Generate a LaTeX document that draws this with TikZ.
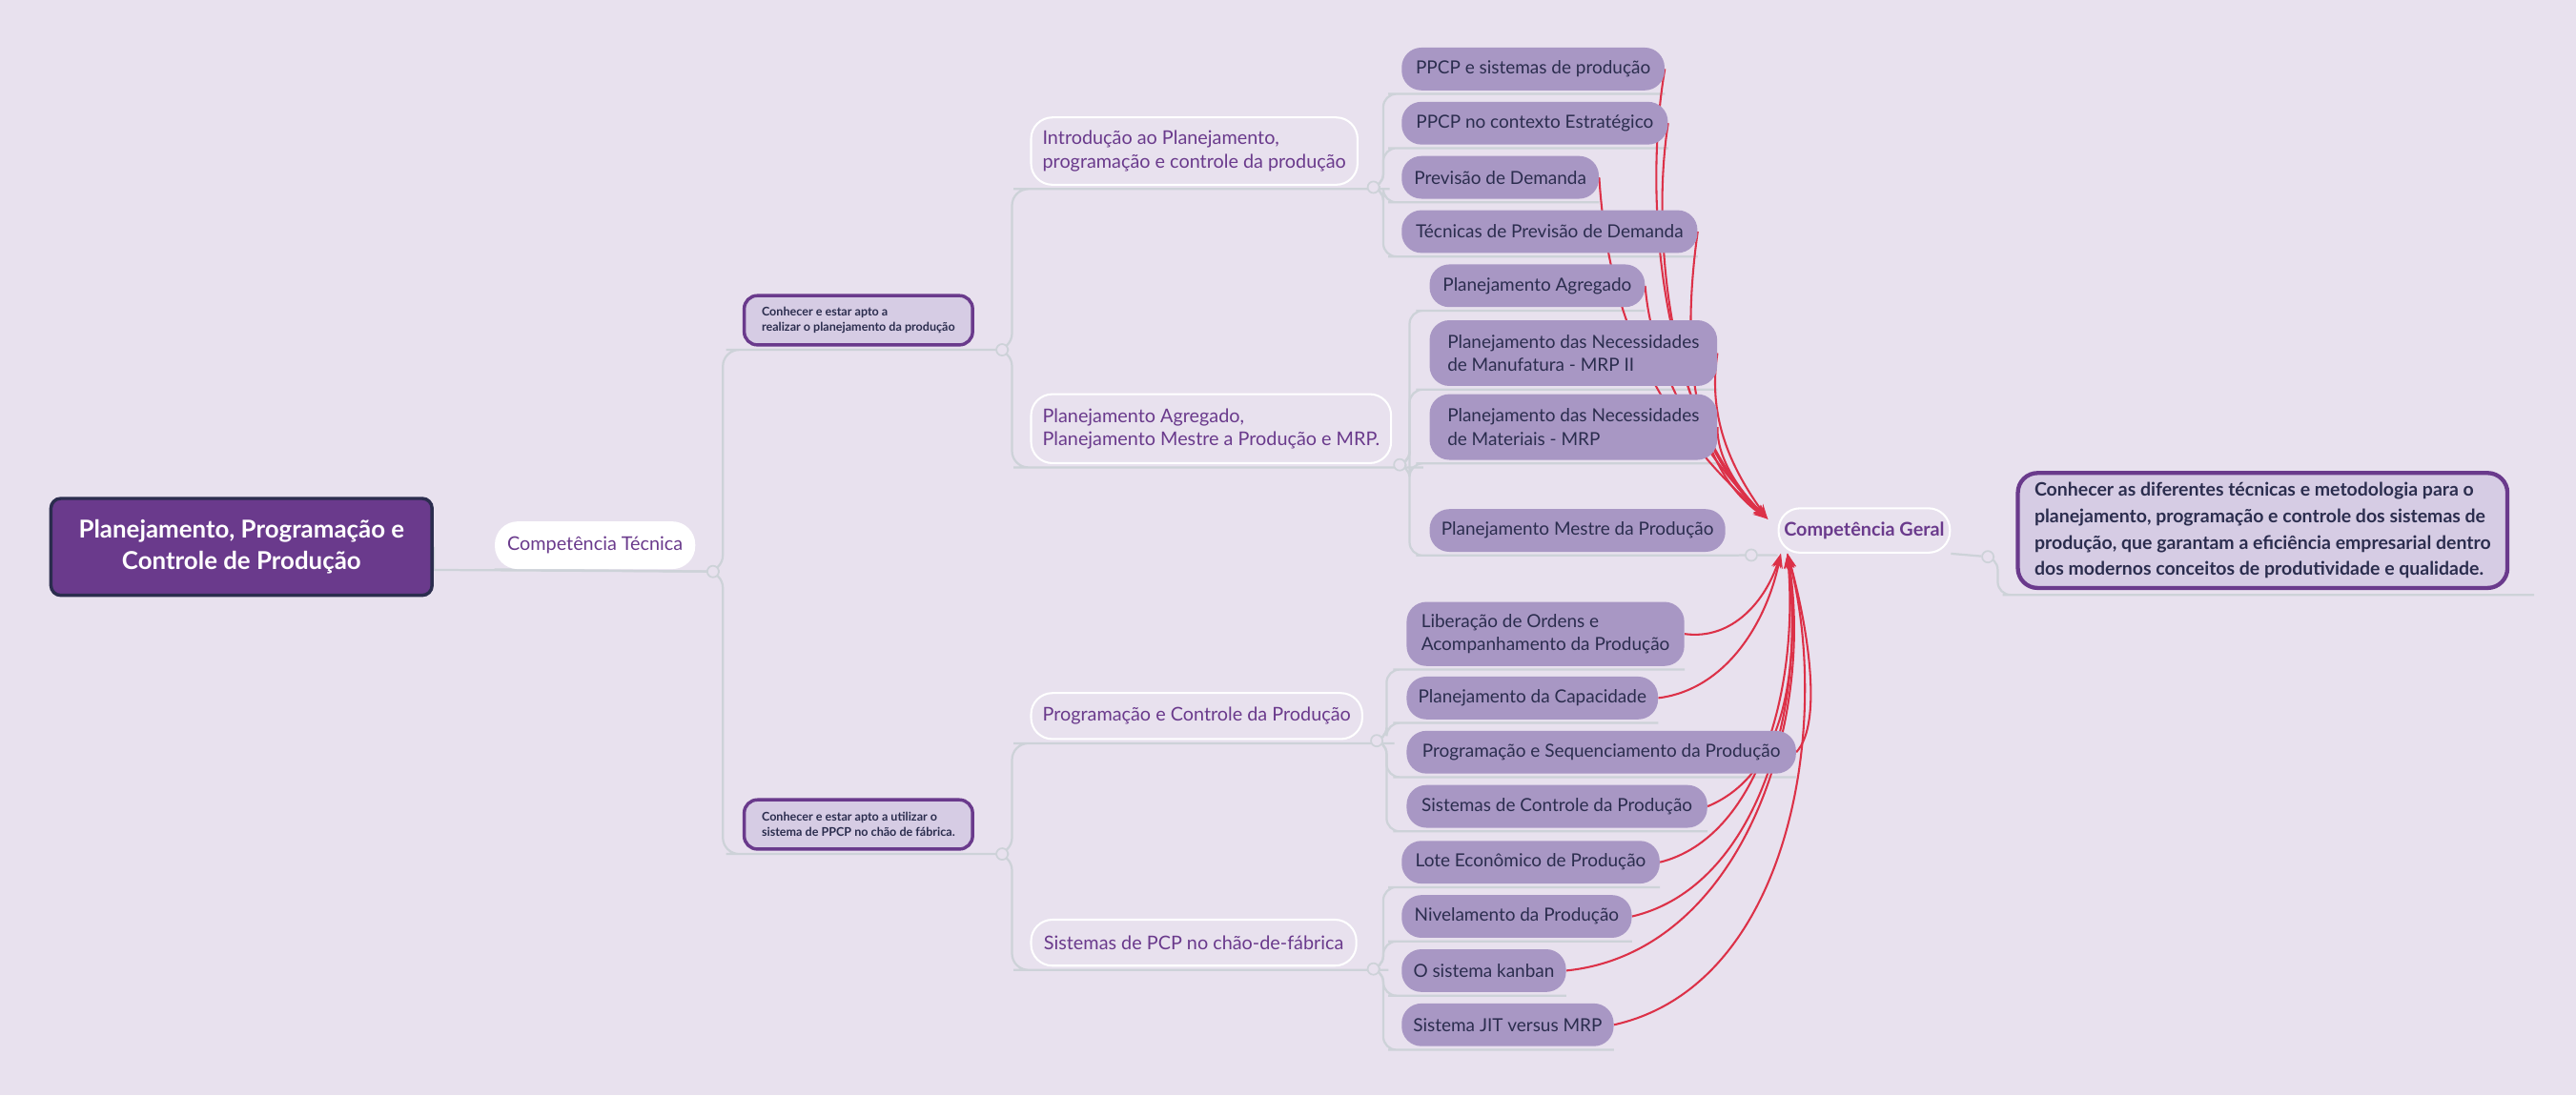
\documentclass[tikz,border=0pt]{standalone}
\usepackage{fontspec}
\setmainfont{Lato}
\usetikzlibrary{calc,arrows.meta}
\pgfdeclarelayer{bgl}
\pgfsetlayers{bgl,main}
\definecolor{bg}{HTML}{E8E1EE}
\definecolor{leaf}{HTML}{A897C4}
\definecolor{ltext}{HTML}{2B2D4E}
\definecolor{purp}{HTML}{6A3A8C}
\definecolor{gline}{HTML}{CDD2D8}
\definecolor{redl}{HTML}{DC3148}
\definecolor{pale}{HTML}{D6CCE4}
\tikzset{
 leafbox/.style={anchor=west,fill=leaf,rounded corners=12pt,text=ltext,font=\fontsize{11}{14}\selectfont,align=left,inner xsep=7pt,minimum height=26pt,inner ysep=5pt},
 whitebox/.style={anchor=west,fill=bg,draw=white,line width=1.2pt,rounded corners=13pt,text=purp,font=\fontsize{11.5}{14}\selectfont,align=left,inner xsep=7pt,minimum height=28pt,inner ysep=5pt},
 smallbox/.style={anchor=west,fill=pale,draw=purp,line width=2pt,rounded corners=8pt,text=ltext,font=\bfseries\fontsize{7.3}{9.5}\selectfont,align=left,inner xsep=6pt,minimum height=30pt,minimum width=139pt},
 conn/.style={draw=gline,line width=1.3pt},
 junc/.style={circle,draw=gline,fill=bg,line width=1pt,inner sep=0pt,minimum size=7pt},
 rarrow/.style={draw=redl,line width=1.2pt,-{Stealth[length=9pt,width=6pt]}},
}
\begin{document}
\begin{tikzpicture}[x=1pt,y=-1pt]
\begin{pgfonlayer}{bgl}
\fill[bg] (0,0) rectangle (1568,667);
\end{pgfonlayer}
\useasboundingbox (0,0) rectangle (1568,667);
% nodes
\node[anchor=west,fill=purp,draw=ltext,line width=2pt,rounded corners=6pt,text=white,font=\bfseries\fontsize{15}{19}\selectfont,align=center,minimum width=232pt,minimum height=59pt] (root) at (30,333) {Planejamento, Programação e\\Controle de Produção};
\node[anchor=west,fill=white,rounded corners=14pt,text=purp,font=\fontsize{11.5}{14}\selectfont,minimum width=122pt,minimum height=29pt] (ct) at (301,332) {Competência Técnica};
\node[smallbox] (a1) at (452,195) {Conhecer e estar apto a\\realizar o planejamento da produção};
\node[smallbox] (a2) at (452,502) {Conhecer e estar apto a utilizar o\\sistema de PPCP no chão de fábrica.};
\node[whitebox,minimum width=198pt,minimum height=41pt] (b1) at (627,92) {Introdução ao Planejamento,\\programação e controle da produção};
\node[whitebox,minimum width=214pt,minimum height=42pt] (b2) at (627,261) {Planejamento Agregado,\\Planejamento Mestre a Produção e MRP.};
\node[whitebox,minimum width=200pt] (b3) at (627,436) {Programação e Controle da Produção};
\node[whitebox,minimum width=198pt] (b4) at (627,574) {Sistemas de PCP no chão-de-fábrica};
\node[leafbox,minimum width=160pt] (l1) at (853,42) {PPCP e sistemas de produção};
\node[leafbox,minimum width=162pt] (l2) at (853,75) {PPCP no contexto Estratégico};
\node[leafbox,minimum width=120pt] (l3) at (853,108) {Previsão de Demanda};
\node[leafbox,minimum width=180pt] (l4) at (853,141) {Técnicas de Previsão de Demanda};
\node[leafbox,minimum width=131pt] (l5) at (870,174) {Planejamento Agregado};
\node[leafbox,minimum width=175pt,minimum height=40pt] (l6) at (870,215) {Planejamento das Necessidades\\de Manufatura - MRP II};
\node[leafbox,minimum width=175pt,minimum height=40pt] (l7) at (870,260) {Planejamento das Necessidades\\de Materiais - MRP};
\node[leafbox,minimum width=180pt] (l8) at (870,323) {Planejamento Mestre da Produção};
\node[leafbox,minimum width=169pt,minimum height=39pt] (l9) at (856,386) {Liberação de Ordens e\\Acompanhamento da Produção};
\node[leafbox,minimum width=153pt] (l10) at (856,425) {Planejamento da Capacidade};
\node[leafbox,minimum width=237pt] (l11) at (856,458) {Programação e Sequenciamento da Produção};
\node[leafbox,minimum width=183pt] (l12) at (856,491) {Sistemas de Controle da Produção};
\node[leafbox,minimum width=157pt] (l13) at (853,525) {Lote Econômico de Produção};
\node[leafbox,minimum width=140pt] (l14) at (853,558) {Nivelamento da Produção};
\node[leafbox,minimum width=100pt] (l15) at (853,591) {O sistema kanban};
\node[leafbox,minimum width=129pt] (l16) at (853,624) {Sistema JIT versus MRP};
\node[anchor=west,fill=bg,draw=white,line width=1.2pt,rounded corners=13pt,text=purp,font=\bfseries\fontsize{11.5}{14}\selectfont,minimum width=84pt,minimum height=27pt] (cg) at (1082,323) {Competência Geral};
\node[anchor=west,fill=pale,draw=purp,line width=2.5pt,rounded corners=12pt,text=ltext,font=\bfseries\fontsize{11.3}{16}\selectfont,align=left,minimum width=298pt,minimum height=70pt,inner xsep=8pt] (desc) at (1227,323) {Conhecer as diferentes técnicas e metodologia para o\\planejamento, programação e controle dos sistemas de\\produção, que garantam a eficiência empresarial dentro\\dos modernos conceitos de produtividade e qualidade.};
% junctions
\node[junc] (j0) at (434,348) {};
\node[junc] (ja1) at (610,213) {};
\node[junc] (ja2) at (610,520) {};
\node[junc] (jb1) at (836,114) {};
\node[junc] (jb2) at (852,283) {};
\node[junc] (jb3) at (838,451) {};
\node[junc] (jb4) at (836,590) {};
\node[junc] (jcg) at (1066,338) {};
\node[junc] (jd) at (1210,339) {};
\begin{pgfonlayer}{bgl}
% connectors
\draw[conn] (root.east) -- ($(root.east)+(0,14)$) -- (j0);
\draw[conn] (ct.south west) -- (j0);
\foreach \p/\c in {j0/a1,j0/a2,ja1/b1,ja1/b2,ja2/b3,ja2/b4}{
  \draw[conn,rounded corners=10pt] (\p) -- ($(\p)+(6,0)$) |- ($(\c.south west)+(0,2)$) -- ($(\c.south east)+(0,2)$) -- ($(\c.south east)+(19,2)$);
}
\foreach \p/\c in {jb1/l1,jb1/l2,jb1/l3,jb1/l4,jb2/l5,jb2/l6,jb2/l7,jb2/l8,jb3/l9,jb3/l10,jb3/l11,jb3/l12,jb4/l13,jb4/l14,jb4/l15,jb4/l16}{
  \draw[conn,rounded corners=8pt] (\p) -- ($(\p)+(6,0)$) |- ($(\c.south west)+(0,2)$) -- ($(\c.south east)+(0,2)$);
}
\draw[conn] ($(l8.south east)+(0,2)$) -- (jcg) -- ($(cg.south west)+(0,1)$);
\draw[conn] (cg.south east) -- (jd);
\draw[conn,rounded corners=8pt] (jd) -- ($(jd)+(6,0)$) |- ($(desc.south west)+(0,3)$) -- ($(desc.south east)+(15,3)$);
% red arrows
\coordinate (ta) at (1076,316);
\coordinate (tb) at (1084,337);
\coordinate (tc) at (1088,337);
\draw[rarrow] (l1.east) .. controls (1000,120) and (1010,250) .. (ta);
\draw[rarrow] (l2.east) .. controls (1005,140) and (1015,260) .. (ta);
\draw[rarrow] (l3.east) .. controls (978,180) and (1000,250) .. (ta);
\draw[rarrow] (l4.east) .. controls (1025,200) and (1025,280) .. (ta);
\draw[rarrow] (l5.east) .. controls (1005,220) and (1030,270) .. (ta);
\draw[rarrow] (l6.east) .. controls (1040,250) and (1050,280) .. (ta);
\draw[rarrow] (l7.east) .. controls (1045,280) and (1060,300) .. (ta);
\draw[rarrow] (l9.east) .. controls (1055,390) and (1075,365) .. (tb);
\draw[rarrow] (l10.east) .. controls (1050,420) and (1075,380) .. (tb);
\draw[rarrow] (l11.east) .. controls (1110,440) and (1100,380) .. (tc);
\draw[rarrow] (l12.east) .. controls (1090,470) and (1095,400) .. (tc);
\draw[rarrow] (l13.east) .. controls (1070,510) and (1095,420) .. (tc);
\draw[rarrow] (l14.east) .. controls (1070,540) and (1100,430) .. (tc);
\draw[rarrow] (l15.east) .. controls (1060,580) and (1105,440) .. (tc);
\draw[rarrow] (l16.east) .. controls (1090,600) and (1115,440) .. (tc);
\end{pgfonlayer}
\end{tikzpicture}
\end{document}
